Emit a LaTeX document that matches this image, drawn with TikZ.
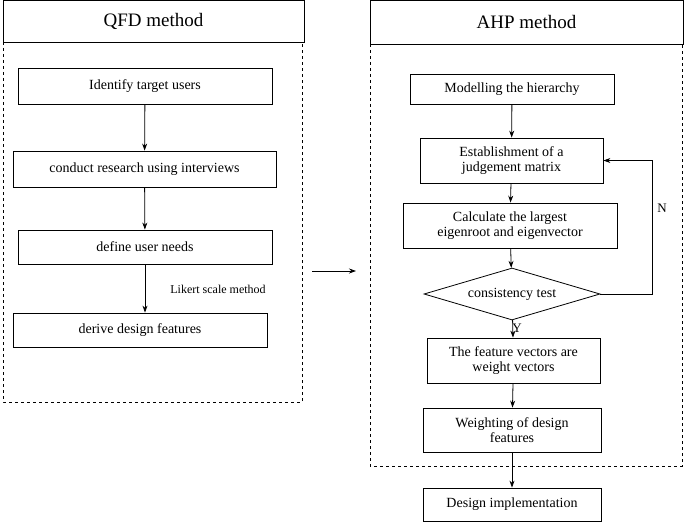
\documentclass[tikz,border=0pt]{standalone}
\usepackage{fontspec}
\setmainfont{Liberation Serif}
\usetikzlibrary{shapes.geometric,arrows.meta}
\tikzset{
  stage/.style={draw, thick, align=center, font=\fontsize{14}{15}\selectfont, inner sep=2pt},
  head/.style={draw, thick, font=\fontsize{19}{21}\selectfont},
  flow/.style={-{Stealth[length=7pt,width=5pt]}, thick}
}
\begin{document}
\begin{tikzpicture}[x=1pt,y=-1pt]
      \useasboundingbox (0,0) rectangle (685,524);
      % left column
      \node[head, minimum width=301, minimum height=42] (qfdhead) at (153.5,21) {QFD method};
      \draw[dashed, thick] (3,42) rectangle (302,402);
      \node[stage, minimum width=254, minimum height=36] (users) at (145,86) {Identify target users};
      \node[stage, minimum width=263, minimum height=36] (research) at (144.5,169) {conduct research using interviews};
      \node[stage, minimum width=254, minimum height=34] (needs) at (145,247) {define user needs};
      \node[stage, minimum width=254, minimum height=34] (features) at (140,330) {derive design features};
      \node[font=\fontsize{12}{13}\selectfont] (likert) at (218,289) {Likert scale method};

      \draw[flow] (users) -- (research);
      \draw[flow] (research) -- (needs);
      \draw[flow] (needs.south -| 145,0) -- (features.north -| 145,0);

      \coordinate (gofrom) at (312,271);
      \coordinate (goto) at (356,271);
      \draw[flow] (gofrom) -- (goto);

      % right column
      \node[head, minimum width=313, minimum height=44] (ahphead) at (526.5,22) {AHP method};
      \draw[dashed, thick] (370,44) rectangle (682,466);
      \node[stage, minimum width=204, minimum height=30] (model) at (512,89) {Modelling the hierarchy};
      \node[stage, minimum width=183, minimum height=45] (matrix) at (511.5,160.5) {Establishment of a\\judgement matrix};
      \node[stage, minimum width=214, minimum height=45] (eigen) at (510,225.5) {Calculate the largest\\eigenroot and eigenvector};
      \node[stage, diamond, aspect=3.4, minimum width=176, minimum height=52, inner sep=0pt] (test) at (512,294) {consistency test};
      \node[stage, minimum width=173, minimum height=45] (vectors) at (513.5,360.5) {The feature vectors are\\weight vectors};
      \node[stage, minimum width=178, minimum height=44] (weight) at (512,430) {Weighting of design\\features};
      \node[stage, minimum width=178, minimum height=33] (impl) at (512,504.5) {Design implementation};
      \node[font=\fontsize{13}{14}\selectfont] (no) at (662,208) {N};
      \node[font=\fontsize{13}{14}\selectfont] (yes) at (517,328) {Y};

      \draw[flow] (model) -- (matrix);
      \draw[flow] (matrix) -- (eigen);
      \draw[flow] (eigen) -- (test);
      \draw[flow] (test) -- (vectors);
      \draw[flow] (vectors) -- (weight);
      \draw[flow] (weight) -- (impl);
      \draw[flow] (test.east) -- (652,294) -- (652,160.5) -- (matrix.east);
\end{tikzpicture}
\end{document}
